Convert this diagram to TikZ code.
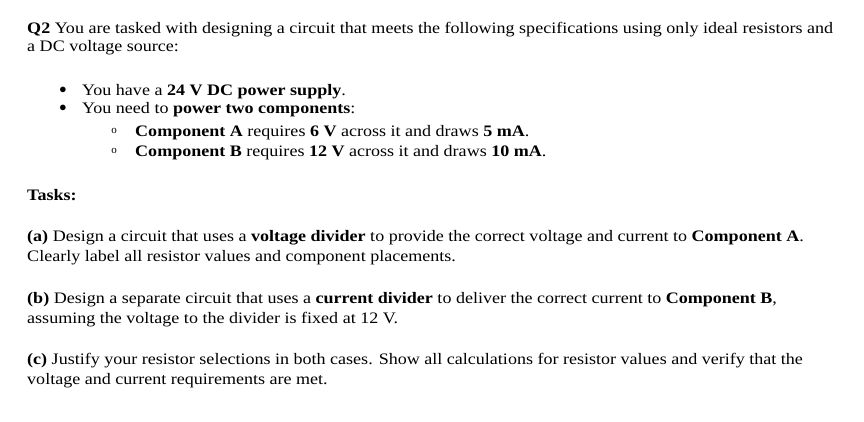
\documentclass[tikz,border=0pt]{standalone}
\usepackage{fontspec}
\setmainfont{Liberation Serif}
\begin{document}
\begin{tikzpicture}[x=1pt,y=-1pt,
  ln/.style={anchor=base west,inner sep=0,font=\fontsize{16}{18}\selectfont,transform shape,xscale=1.127},
  bl/.style={anchor=center,inner sep=0,font=\fontsize{15.3}{18}\selectfont}]
\useasboundingbox (0,0) rectangle (864,421);
\node[ln] (l1) at (27,33) {\textbf{Q2} You are tasked with designing a circuit that meets the following specifications using only ideal resistors and};
\node[ln] (l2) at (27,51) {a DC voltage source:};
\node[bl] (b1) at (63,90) {$\bullet$};
\node[ln] (l3) at (82,95) {You have a \textbf{24 V DC power supply}.};
\node[bl] (b2) at (63,108) {$\bullet$};
\node[ln] (l4) at (82,113) {You need to \textbf{power two components}:};
\node[bl] (s1) at (114,131) {\fontsize{11}{12}\selectfont o};
\node[ln] (l5) at (135,136) {\textbf{Component A} requires \textbf{6 V} across it and draws \textbf{5 mA}.};
\node[bl] (s2) at (114,151) {\fontsize{11}{12}\selectfont o};
\node[ln] (l6) at (135,156) {\textbf{Component B} requires \textbf{12 V} across it and draws \textbf{10 mA}.};
\node[ln] (t) at (27,200) {\textbf{Tasks:}};
\node[ln] (a1) at (27,241) {\textbf{(a)} Design a circuit that uses a \textbf{voltage divider} to provide the correct voltage and current to \textbf{Component A}.};
\node[ln] (a2) at (27,261) {Clearly label all resistor values and component placements.};
\node[ln] (c1) at (27,303) {\textbf{(b)} Design a separate circuit that uses a \textbf{current divider} to deliver the correct current to \textbf{Component B},};
\node[ln] (c2) at (27,323) {assuming the voltage to the divider is fixed at 12 V.};
\node[ln] (d1) at (27,364) {\textbf{(c)} Justify your resistor selections in both cases. Show all calculations for resistor values and verify that the};
\node[ln] (d2) at (27,384) {voltage and current requirements are met.};
\end{tikzpicture}
\end{document}
